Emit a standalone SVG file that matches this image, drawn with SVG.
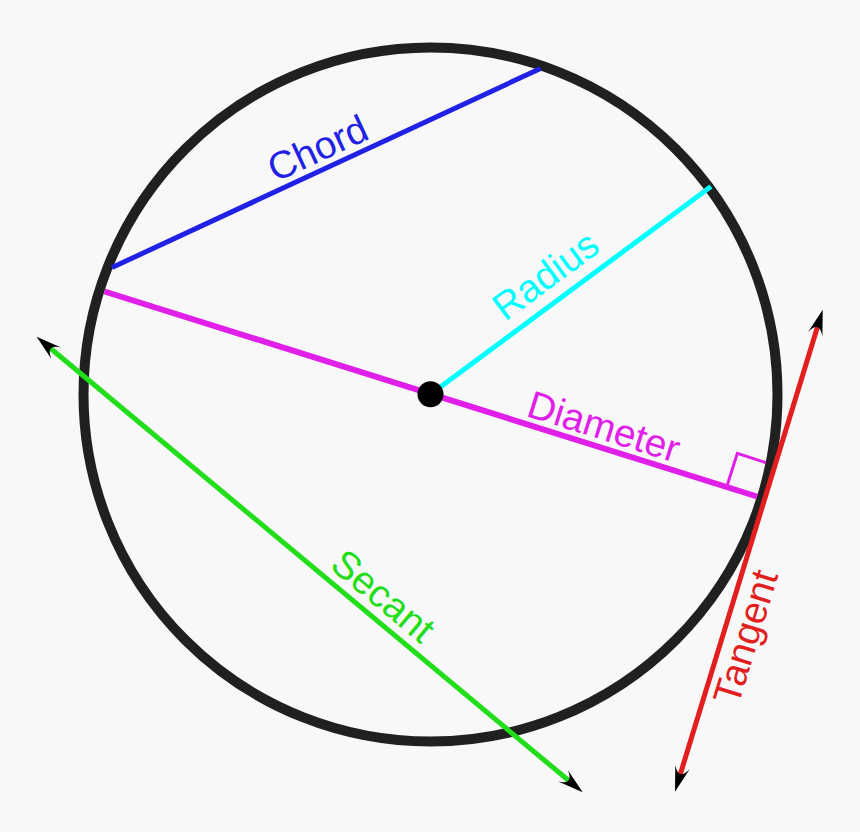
<svg xmlns="http://www.w3.org/2000/svg" width="860" height="832" viewBox="0 0 860 832">
  <style>
    .lbl { font-family: "Liberation Sans", Arial, sans-serif; font-size: 38.7px; }
    .seg { fill: none; stroke-linecap: butt; }
  </style>
  <defs>
    <marker id="arrow" markerUnits="userSpaceOnUse" markerWidth="30" markerHeight="20" viewBox="-8 -8 24 16" refX="0" refY="0" orient="auto-start-reverse" overflow="visible">
      <path d="M14,0 L-6.5,-6 Q5,0 -6.5,6 Z" fill="#000"/>
    </marker>
  </defs>
  <rect width="860" height="832" fill="#f8f8f8"/>
  <g id="circle">
    <circle cx="430.5" cy="394.5" r="347" fill="none" stroke="#202020" stroke-width="10"/>
  </g>
  <g id="connectors">
    <line id="chord" class="seg" x1="112" y1="267.5" x2="540.5" y2="68.5" stroke="#2121e6" stroke-width="5"/>
    <line id="diameter" class="seg" x1="104.5" y1="291.5" x2="757" y2="496.5" stroke="#e020e8" stroke-width="6"/>
    <line id="radius" class="seg" x1="430.5" y1="394.3" x2="711" y2="186.5" stroke="#00ffff" stroke-width="5"/>
    <polyline id="right-angle" class="seg" points="727,486 737.3,453.3 766,462.7" stroke="#e020e8" stroke-width="3"/>
    <line id="secant" class="seg" x1="50.05" y1="347.97" x2="569.25" y2="781.03" stroke="#22dd1a" stroke-width="5" marker-start="url(#arrow)" marker-end="url(#arrow)"/>
    <line id="tangent" class="seg" x1="817.6" y1="326.4" x2="680.1" y2="774.9" stroke="#e21e1e" stroke-width="5" marker-start="url(#arrow)" marker-end="url(#arrow)"/>
  </g>
  <g id="center">
    <circle cx="430.5" cy="394.3" r="13" fill="#000"/>
  </g>
  <g id="labels">
    <text class="lbl" fill="#2121e6" transform="translate(275.4,182.5) rotate(-24.91)">Chord</text>
    <text class="lbl" fill="#00ffff" transform="translate(505,322) rotate(-36.53)">Radius</text>
    <text class="lbl" fill="#e020e8" transform="translate(525,415.7) rotate(17.44)">Diameter</text>
    <text class="lbl" fill="#22dd1a" transform="translate(328.5,567.4) rotate(39.83)">Secant</text>
    <text class="lbl" fill="#e21e1e" transform="translate(738,706.7) rotate(-72.93)">Tangent</text>
  </g>
</svg>
